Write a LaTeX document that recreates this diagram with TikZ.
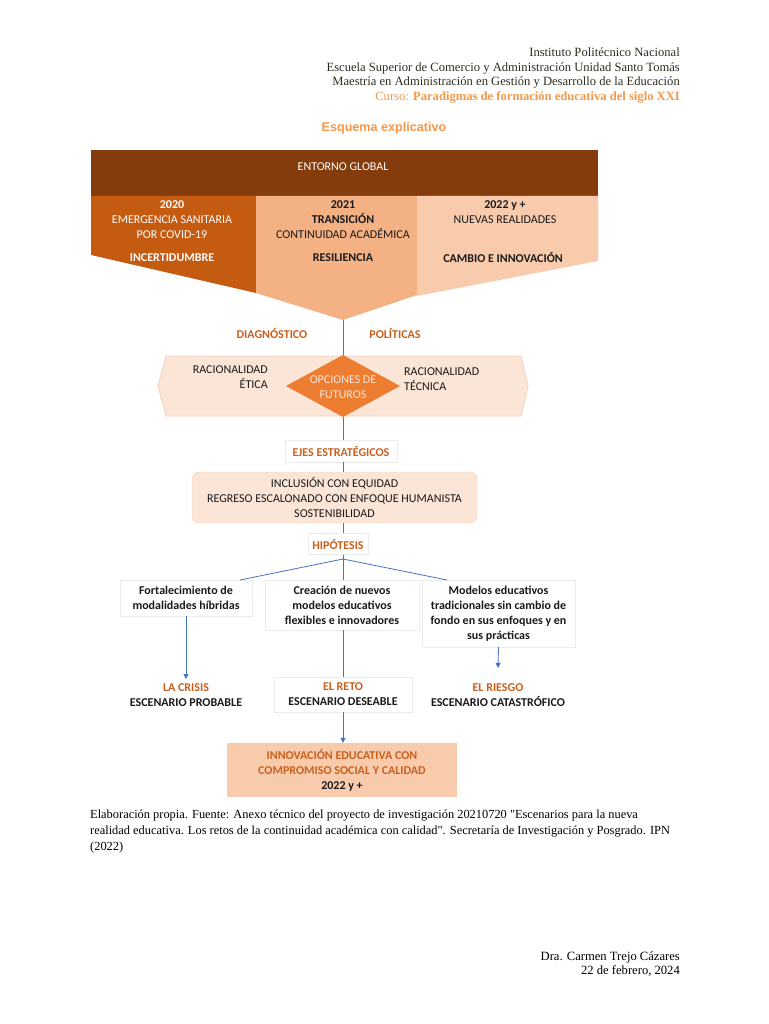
\documentclass[tikz,border=0pt]{standalone}
\usepackage{fontspec}
\setmainfont{Liberation Serif}[Ligatures=TeXOff]
\newfontfamily\calib{Carlito}
\newfontfamily\arialf{Liberation Sans}
\usetikzlibrary{arrows.meta}
\definecolor{brownD}{HTML}{843C0C}
\definecolor{orgD}{HTML}{C55A11}
\definecolor{peachM}{HTML}{F4B183}
\definecolor{peachL}{HTML}{F8CBAD}
\definecolor{peachXL}{HTML}{FBE5D6}
\definecolor{peachBd}{HTML}{F1D3BE}
\definecolor{diam}{HTML}{ED7D31}
\definecolor{otxt}{HTML}{C9601E}
\definecolor{blueL}{HTML}{4472C4}
\definecolor{hdr}{HTML}{2E2E1E}
\definecolor{curso}{HTML}{F79646}
\definecolor{txt}{HTML}{1A1A1A}
\begin{document}
\begin{tikzpicture}[x=1pt,y=-1pt,
  hdrtxt/.style={anchor=base east,inner sep=0,text=hdr,font=\fontsize{12.6}{14.7}\selectfont},
  dtxt/.style={inner sep=0,align=center,text=txt,font=\calib\fontsize{12}{15}\selectfont},
  dbold/.style={dtxt,font=\calib\bfseries\fontsize{12}{15}\selectfont},
  otitle/.style={dbold,text=otxt},
  wbox/.style={draw=black!8,fill=white,inner sep=0},
  conn/.style={draw=blueL,line width=0.8pt},
  arr/.style={conn,-{Triangle[width=5pt,length=5pt]}}
]
\useasboundingbox (0,0) rectangle (768,1024);
\fill[white] (0,0) rectangle (768,1024);

% header
\node[hdrtxt] (h1) at (680,57) {Instituto Politécnico Nacional};
\node[hdrtxt] (h2) at (680,71.5) {Escuela Superior de Comercio y Administración Unidad Santo Tomás};
\node[hdrtxt] (h3) at (680,86) {Maestría en Administración en Gestión y Desarrollo de la Educación};
\node[hdrtxt,text=curso] (h4) at (680,101) {Curso: \textbf{Paradigmas de formación educativa del siglo XXI}};
\node[inner sep=0,text=curso,font=\arialf\bfseries\fontsize{12.6}{15}\selectfont] (tit) at (384,128) {Esquema explicativo};

% top band
\fill[brownD] (91,150) rectangle (598,196);
\fill[orgD] (91,196) -- (256,196) -- (256,293) -- (91,255) -- cycle;
\fill[peachM] (256,196) -- (417,196) -- (417,295) -- (343,320) -- (256,293) -- cycle;
\fill[peachL] (417,196) -- (598,196) -- (598,261) -- (417,296) -- cycle;
\coordinate (tip) at (343,320);

\node[dtxt,text=white] (ent) at (343,167) {ENTORNO GLOBAL};
\node[dtxt,text=white] (c1) at (172,220) {\textbf{2020}\\EMERGENCIA SANITARIA\\POR COVID-19};
\node[dbold,text=white] (c1b) at (172,258) {INCERTIDUMBRE};
\node[dtxt] (c2) at (343,220) {\textbf{2021}\\\textbf{TRANSICIÓN}\\CONTINUIDAD ACADÉMICA};
\node[dbold] (c2b) at (343,258) {RESILIENCIA};
\node[dtxt] (c3) at (505,212.5) {\textbf{2022 y +}\\NUEVAS REALIDADES};
\node[dbold] (c3b) at (503,258) {CAMBIO E INNOVACIÓN};

\node[otitle] (diag) at (272,333) {DIAGNÓSTICO};
\node[otitle] (pol) at (395,333) {POLÍTICAS};

% second band
\path[fill=peachXL,draw=peachBd,line width=0.8pt] (158,386) -- (166,356) -- (521,356) -- (528,386) -- (521,416) -- (166,416) -- cycle;
\fill[diam] (286,386) -- (343,355) -- (400,386) -- (343,417) -- cycle;
\coordinate (opcT) at (343,355);
\coordinate (opcB) at (343,417);
\node[dtxt,text=peachXL] (opc) at (343,387) {OPCIONES DE\\FUTUROS};
\node[dtxt,align=right,anchor=east] (rEt) at (268,377) {RACIONALIDAD\\ÉTICA};
\node[dtxt,align=left,anchor=west] (rTe) at (404,379) {RACIONALIDAD\\TÉCNICA};
\draw[conn] (tip) -- (opcT);

% ejes
\node[wbox,minimum width=112pt,minimum height=22pt] (ejes) at (341,451) {};
\node[otitle] at (ejes.center) {EJES ESTRATÉGICOS};
\draw[conn] (opcB) -- (opcB |- ejes.north);

\node[fill=peachXL,draw=peachBd,rounded corners=7pt,minimum width=285pt,minimum height=51pt,inner sep=0] (incl) at (334.5,497.5) {};
\node[dtxt] at (incl.center) {INCLUSIÓN CON EQUIDAD\\REGRESO ESCALONADO CON ENFOQUE HUMANISTA\\SOSTENIBILIDAD};
\draw[conn] (opcB |- ejes.south) -- (opcB |- incl.north);

\node[wbox,minimum width=60pt,minimum height=21pt] (hip) at (338,544) {};
\node[otitle] at (hip.center) {HIPÓTESIS};
\draw[conn] (opcB |- incl.south) -- (opcB |- hip.north);

% hypotheses
\coordinate (br) at (343,559);
\node[wbox,minimum width=132pt,minimum height=36pt] (b1) at (186,598) {};
\node[dbold] at (b1.center) {Fortalecimiento de\\modalidades híbridas};
\node[wbox,minimum width=154pt,minimum height=50pt] (b2) at (342,605) {};
\node[dbold] at (b2.center) {Creación de nuevos\\modelos educativos\\flexibles e innovadores};
\node[wbox,minimum width=153pt,minimum height=67pt] (b3) at (498.5,613.5) {};
\node[dbold] at (b3.center) {Modelos educativos\\tradicionales sin cambio de\\fondo en sus enfoques y en\\sus prácticas};
\coordinate (b1t) at (240,580);
\coordinate (b3t) at (447,580);
\draw[conn] (opcB |- hip.south) -- (br);
\draw[conn] (br) -- (b1t);
\draw[conn] (br) -- (br |- b2.north);
\draw[conn] (br) -- (b3t);

% scenarios
\node[dbold] (crisis) at (186,695.5) {\textcolor{otxt}{LA CRISIS}\\ESCENARIO PROBABLE};
\node[wbox,minimum width=138pt,minimum height=35pt] (reto) at (343,694.5) {};
\node[dbold] at (reto.center) {\textcolor{otxt}{EL RETO}\\ESCENARIO DESEABLE};
\node[dbold] (riesgo) at (498,695.5) {\textcolor{otxt}{EL RIESGO}\\ESCENARIO CATASTRÓFICO};
\coordinate (crisisT) at (186,679);
\coordinate (riesgoT) at (498,668);
\draw[arr] (b1.south) -- (crisisT);
\draw[conn] (br |- b2.south) -- (br |- reto.north);
\draw[arr] (b3.south) -- (riesgoT);

\node[fill=peachL,minimum width=230pt,minimum height=54pt,inner sep=0] (fin) at (342,770) {};
\node[dbold] at (fin.center) {\textcolor{otxt}{INNOVACIÓN EDUCATIVA CON}\\\textcolor{otxt}{COMPROMISO SOCIAL Y CALIDAD}\\2022 y +};
\draw[arr] (br |- reto.south) -- (br |- fin.north);

% footer
\node[anchor=north west,inner sep=0,align=left,text=black,font=\fontsize{12.4}{16}\selectfont] (foot) at (90,810) {Elaboración propia. Fuente: Anexo técnico del proyecto de investigación 20210720 "Escenarios para la nueva\\realidad educativa. Los retos de la continuidad académica con calidad". Secretaría de Investigación y Posgrado. IPN\\(2022)};
\node[hdrtxt,text=black] (sig1) at (680,960) {Dra. Carmen Trejo Cázares};
\node[hdrtxt,text=black] (sig2) at (680,974.5) {22 de febrero, 2024};
\end{tikzpicture}
\end{document}
